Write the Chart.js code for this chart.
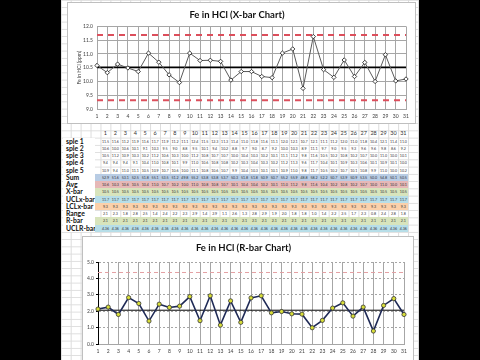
<!DOCTYPE html>
<html><head><meta charset="utf-8">
<script src="https://cdn.jsdelivr.net/npm/chart.js@4"></script>
<style>
html,body{margin:0;padding:0;width:480px;height:360px;overflow:hidden;background:#000;font-family:Lato,'Liberation Sans',sans-serif;}
#sheet{position:absolute;left:61px;top:0;width:358px;height:360px;background-color:#fff;
background-image:linear-gradient(to right,#dcdcdc 1px,transparent 1px),linear-gradient(to bottom,#dcdcdc 1px,transparent 1px);
background-size:9.93px 7.25px;background-position:9.7px 7.15px;}
.box{position:absolute;background:#fff;border:1px solid #bfbfbf;overflow:hidden;}
#box1{left:67px;top:2px;width:347px;height:120px;}
#box2{left:82px;top:236px;width:330px;height:130px;}
canvas{position:absolute;left:0;top:0;}
#tbl{position:absolute;left:0;top:0;}
.cell{position:absolute;box-sizing:border-box;text-align:center;white-space:nowrap;overflow:hidden;color:#333;}
.lab{font-weight:bold;font-size:6.8px;color:#111;text-align:left;padding-left:3px;background:#fff;}
</style></head>
<body>
<div id="sheet"></div>
<div id="tbl"></div>
<div class="box" id="box1"><canvas id="c1" width="347" height="120"></canvas></div>
<div class="box" id="box2"><canvas id="c2" width="330" height="123"></canvas></div>
<script>
// ---- data ----
const cats = ['1','2','3','4','5','6','7','8','9','10','11','12','13','14','15','16','17','18','19','20','21','22','23','24','25','26','27','28','29','30','31'];
const xbarAvg = [10.58,10.32,10.63,10.49,10.36,11.03,10.70,10.24,9.96,11.03,10.76,10.77,10.73,10.05,10.36,10.36,10.18,10.14,11.03,11.18,9.75,11.63,10.43,10.15,10.78,10.18,10.69,10.00,10.97,10.02,10.09];
const ranges = [2.13,2.25,1.80,2.83,2.47,1.40,2.43,2.23,2.31,2.89,1.42,2.94,1.15,2.63,1.32,2.81,2.94,1.90,1.98,1.84,1.82,0.99,1.44,2.19,2.51,1.70,2.25,0.79,2.35,2.77,1.80];
const xbarCL = 10.51, xbarUCL = 11.69, xbarLCL = 9.32;
const rCL = 2.06, rUCL = 4.36;
const sple1 = [11.5,11.6,11.2,11.9,11.6,11.7,11.9,11.2,11.1,12.4,11.5,12.3,11.3,11.4,11.0,11.8,11.6,11.1,12.0,12.1,10.7,12.1,11.1,11.2,12.0,11.0,11.8,10.4,12.1,11.4,11.0];
const sple2 = [10.6,10.0,10.6,10.1,9.1,10.3,9.5,9.0,8.8,9.5,10.1,9.4,10.2,8.8,9.7,9.0,8.7,9.2,10.0,10.3,8.9,11.1,9.7,9.0,9.5,9.3,9.6,9.6,9.8,8.6,9.2];
const sple3 = [10.5,11.2,10.9,10.3,10.2,11.2,10.6,10.3,10.0,11.2,10.8,10.7,10.7,10.0,10.4,10.3,10.2,10.1,11.1,11.2,9.8,11.6,10.5,10.2,10.8,10.2,10.7,10.0,11.0,10.0,10.1];
const sple4 = [9.4,9.4,9.4,9.1,10.4,11.0,10.8,10.1,9.9,11.0,10.6,10.8,10.8,10.2,10.3,10.4,10.3,10.2,11.2,11.3,9.6,11.7,10.4,10.1,10.9,10.3,10.6,10.1,10.9,10.1,10.0];
const sple5 = [10.9,9.4,11.0,11.1,10.5,10.9,10.7,10.6,10.0,11.1,10.8,10.6,10.7,9.9,10.4,10.3,10.1,10.1,10.9,11.0,9.8,11.7,10.5,10.2,10.7,10.1,10.8,9.9,11.0,10.0,10.2];
const sums = [52.9,51.6,53.1,52.5,51.8,55.1,53.5,51.2,49.8,55.2,53.8,53.8,53.7,50.3,51.8,51.8,50.9,50.7,55.2,55.9,48.8,58.2,52.2,50.7,53.9,50.9,53.5,50.0,54.8,50.1,50.5];
const rowLabels = ['sple 1','sple 2','sple 3','sple 4','sple 5','Sum','Avg','X-bar','UCLx-bar','LCLx-bar','Range','R-bar','UCLR-bar'];

// ---- table ----
const rowVals = [
  sple1.map(v=>v.toFixed(1)), sple2.map(v=>v.toFixed(1)), sple3.map(v=>v.toFixed(1)),
  sple4.map(v=>v.toFixed(1)), sple5.map(v=>v.toFixed(1)), sums.map(v=>v.toFixed(1)),
  xbarAvg.map(v=>v.toFixed(1)), cats.map(()=>xbarCL.toFixed(1)), cats.map(()=>xbarUCL.toFixed(1)),
  cats.map(()=>xbarLCL.toFixed(1)), ranges.map(v=>v.toFixed(1)), cats.map(()=>rCL.toFixed(1)),
  cats.map(()=>rUCL.toFixed(2))
];
const rowColors = [null,null,null,null,null,'#b8cce4','#e6b8b7','#d8e4bc','#b7dee8','#fbd0aa',null,'#d8e4bc','#b7dee8'];
const T = document.getElementById('tbl');
const X0 = 100.5, CW = 9.93, Y0 = 130.4, RH = 7.25, LX = 63, BX = 95;
function cell(x,y,w,h,txt,cls,bg,fs){
  const d=document.createElement('div'); d.className='cell '+(cls||'');
  d.style.left=x+'px'; d.style.top=y+'px'; d.style.width=w+'px'; d.style.height=h+'px';
  d.style.lineHeight=h+'px'; if(bg) d.style.background=bg; if(fs) d.style.fontSize=fs+'px';
  d.textContent=txt; T.appendChild(d);
}
cats.forEach((c,j)=>cell(X0+j*CW,Y0,CW,RH,c,'',null,5.5));
rowLabels.forEach((lab,i)=>{
  const y=Y0+(i+1)*RH;
  if(rowColors[i]) cell(BX,y,X0+CW*31-BX,RH,'','',rowColors[i],null);
  cell(LX,y,BX-LX,RH,lab,'lab',null,null);
  rowVals[i].forEach((v,j)=>cell(X0+j*CW,y,CW,RH,v,'',null,3.6));
});

// ---- charts ----
Chart.defaults.font.family = 'Lato';
const tickFont = {size:5, family:'Lato'};
new Chart(document.getElementById('c1'),{
  type:'line',
  data:{labels:cats,datasets:[
    {data:xbarAvg,borderColor:'#5a5a5a',borderWidth:1,tension:0,pointStyle:'rectRot',pointRadius:2.2,pointBackgroundColor:'#fff',pointBorderColor:'#111',pointBorderWidth:0.8},
    {data:cats.map(()=>xbarCL),borderColor:'#000',borderWidth:1.6,pointRadius:0},
    {data:cats.map(()=>xbarUCL),borderColor:'#dc4f5c',borderWidth:2,borderDash:[6,5],pointRadius:0},
    {data:cats.map(()=>xbarLCL),borderColor:'#dc4f5c',borderWidth:2,borderDash:[6,5],pointRadius:0}
  ]},
  options:{responsive:false,animation:false,devicePixelRatio:1,
    layout:{padding:{left:0,right:9,top:0,bottom:0}},
    plugins:{legend:{display:false},tooltip:{enabled:false},
      title:{display:true,text:'Fe in HCl (X-bar Chart)',color:'#111',font:{size:9.5,weight:'bold',family:'Lato'},padding:{top:6,bottom:6}}},
    scales:{
      x:{offset:false,grid:{color:'#a6a6a6',drawTicks:false},border:{color:'#a6a6a6'},
         ticks:{font:tickFont,color:'#404040',padding:4,maxRotation:0,autoSkip:false},afterFit:s=>{s.height=14;}},
      y:{min:9,max:12,grid:{color:'#a6a6a6',drawTicks:false},border:{color:'#a6a6a6'},
         ticks:{stepSize:0.5,font:tickFont,color:'#404040',padding:4,callback:v=>Number(v).toFixed(1)},
         title:{display:true,text:'Fe in HCl (ppm)',color:'#404040',font:{size:5,family:'Lato'},padding:{top:8,bottom:0}},
         afterFit:s=>{s.width=29;}}
    }}
});
new Chart(document.getElementById('c2'),{
  type:'line',
  data:{labels:cats,datasets:[
    {data:ranges,borderColor:'#1f2a56',borderWidth:1.6,tension:0,pointStyle:'circle',pointRadius:2.1,pointBackgroundColor:'#d8de3a',pointBorderColor:'#333',pointBorderWidth:0.8},
    {data:cats.map(()=>rCL),borderColor:'#000',borderWidth:1,pointRadius:0},
    {data:cats.map(()=>rUCL),borderColor:'#e4a0a3',borderWidth:1,borderDash:[4,3],pointRadius:0}
  ]},
  options:{responsive:false,animation:false,devicePixelRatio:1,
    layout:{padding:{left:0,right:9,top:0,bottom:2}},
    plugins:{legend:{display:false},tooltip:{enabled:false},
      title:{display:true,text:'Fe in HCl (R-bar Chart)',color:'#111',font:{size:9.5,weight:'bold',family:'Lato'},padding:{top:5,bottom:8.6}}},
    scales:{
      x:{offset:false,grid:{color:'#a6a6a6',drawTicks:false},border:{color:'#a6a6a6'},
         ticks:{font:tickFont,color:'#404040',padding:4,maxRotation:0,autoSkip:false},afterFit:s=>{s.height=14;}},
      y:{min:0,max:5,grid:{color:'#a6a6a6',drawTicks:true,tickLength:2,tickColor:'#000'},border:{color:'#000',dash:[2,2]},
         ticks:{stepSize:0.5,font:tickFont,color:'#404040',padding:2,callback:v=>Number(v).toFixed(1)},
         afterFit:s=>{s.width=15;}}
    }}
});
</script>
</body></html>
